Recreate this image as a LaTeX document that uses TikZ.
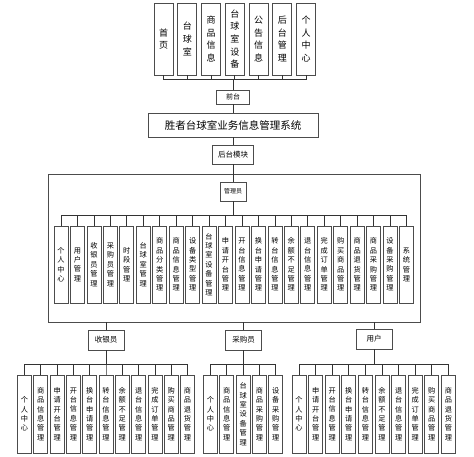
\documentclass[tikz,border=0pt]{standalone}
\usepackage{fontspec}
\setmainfont{Noto Sans CJK SC}
\usetikzlibrary{positioning,calc}
% one character per line, for the tall boxes
\makeatletter
\def\vtxt#1{\vbox{\expandafter\vtxt@a#1\relax}}
\def\vtxt@a#1{\ifx\relax#1\else\hbox{#1}\expandafter\vtxt@a\fi}
\makeatother
\tikzset{
  box/.style={draw=black!70, fill=white, inner sep=1pt, line width=0.7pt},
  topbox/.style={box, minimum width=19pt, minimum height=72pt, font=\fontsize{9}{12.7}\selectfont},
  leaf/.style={box, minimum width=14pt, minimum height=77pt, font=\fontsize{7.2}{9.4}\selectfont},
  role/.style={box, minimum width=36pt, minimum height=20pt, font=\fontsize{7.5}{9}\selectfont},
  link/.style={draw=black!80, line width=0.7pt},
}
\begin{document}
\begin{tikzpicture}[x=1pt, y=-1pt]
    \useasboundingbox (0,0) rectangle (474,457);
    % front end
    \foreach \t [count=\i from 0] in {首页,台球室,商品信息,台球室设备,公告信息,后台管理,个人中心}
        \node[topbox] (f\i) at (163.5+23.75*\i, 39) {\vtxt{\t}};
    \node[box, minimum width=33pt, minimum height=14pt, font=\fontsize{7}{8}\selectfont] (qiantai) at (233,97) {前台};
    \foreach \i in {0,...,6}
        \path[link] (f\i.south) -- ++(0,4) -| (qiantai.north);
    \node[box, minimum width=170pt, minimum height=24pt, font=\fontsize{10.5}{12}\selectfont] (title) at (233,125) {胜者台球室业务信息管理系统};
    \path[link] (qiantai) -- (title);
    % back end
    \node[box, minimum width=41pt, minimum height=19pt, font=\fontsize{7.5}{9}\selectfont] (houtai) at (233,154.5) {后台模块};
    \path[link] (title) -- (houtai);
    \node[draw=black!70, line width=0.8pt, minimum width=372pt, minimum height=148pt, inner sep=0pt] (frame) at (234,248) {};
    \path[link] (houtai) -- (houtai |- frame.north);
    \node[box, minimum width=26pt, minimum height=19pt, font=\fontsize{6}{7}\selectfont] (admin) at (233,191.5) {管理员};
    \path[link] (admin) -- (admin |- frame.north);
    \foreach \t [count=\i from 0] in {个人中心,用户管理,收银员管理,采购员管理,时段管理,台球室管理,商品分类管理,商品信息管理,设备类型管理,台球室设备管理,申请开台管理,开台信息管理,换台申请管理,转台信息管理,余额不足管理,退台信息管理,完成订单管理,购买商品管理,商品退货管理,商品采购管理,设备采购管理,系统管理}
        \node[leaf] (a\i) at (61+16.45*\i, 264.5) {\vtxt{\t}};
    \foreach \i in {0,...,21}
        \path[link] (a\i.north) -- ++(0,-10) -| (admin.south);
    % roles
    \node[role] (cashier) at (106,340) {收银员};
    \node[role] (buyer) at (243.5,340) {采购员};
    \node[role] (user) at (374,339) {用户};
    \foreach \r in {cashier,buyer,user}
        \path[link] (\r) -- (\r |- frame.south);
    \foreach \t [count=\i from 0] in {个人中心,商品信息管理,申请开台管理,开台信息管理,换台申请管理,转台信息管理,余额不足管理,退台信息管理,完成订单管理,购买商品管理,商品退货管理}
        \node[leaf, minimum height=78pt] (c\i) at (24.5+16.3*\i, 414) {\vtxt{\t}};
    \foreach \t [count=\i from 0] in {个人中心,商品信息管理,台球室设备管理,商品采购管理,设备采购管理}
        \node[leaf, minimum height=78pt] (b\i) at (210.5+16.3*\i, 414) {\vtxt{\t}};
    \foreach \t [count=\i from 0] in {个人中心,申请开台管理,开台信息管理,换台申请管理,转台信息管理,余额不足管理,退台信息管理,完成订单管理,购买商品管理,商品退货管理}
        \node[leaf, minimum height=78pt] (u\i) at (299+16.6*\i, 414) {\vtxt{\t}};
    \foreach \i in {0,...,10}
        \path[link] (c\i.north) -- ++(0,-10) -| (cashier.south);
    \foreach \i in {0,...,4}
        \path[link] (b\i.north) -- ++(0,-10) -| (buyer.south);
    \foreach \i in {0,...,9}
        \path[link] (u\i.north) -- ++(0,-10) -| (user.south);
\end{tikzpicture}
\end{document}
